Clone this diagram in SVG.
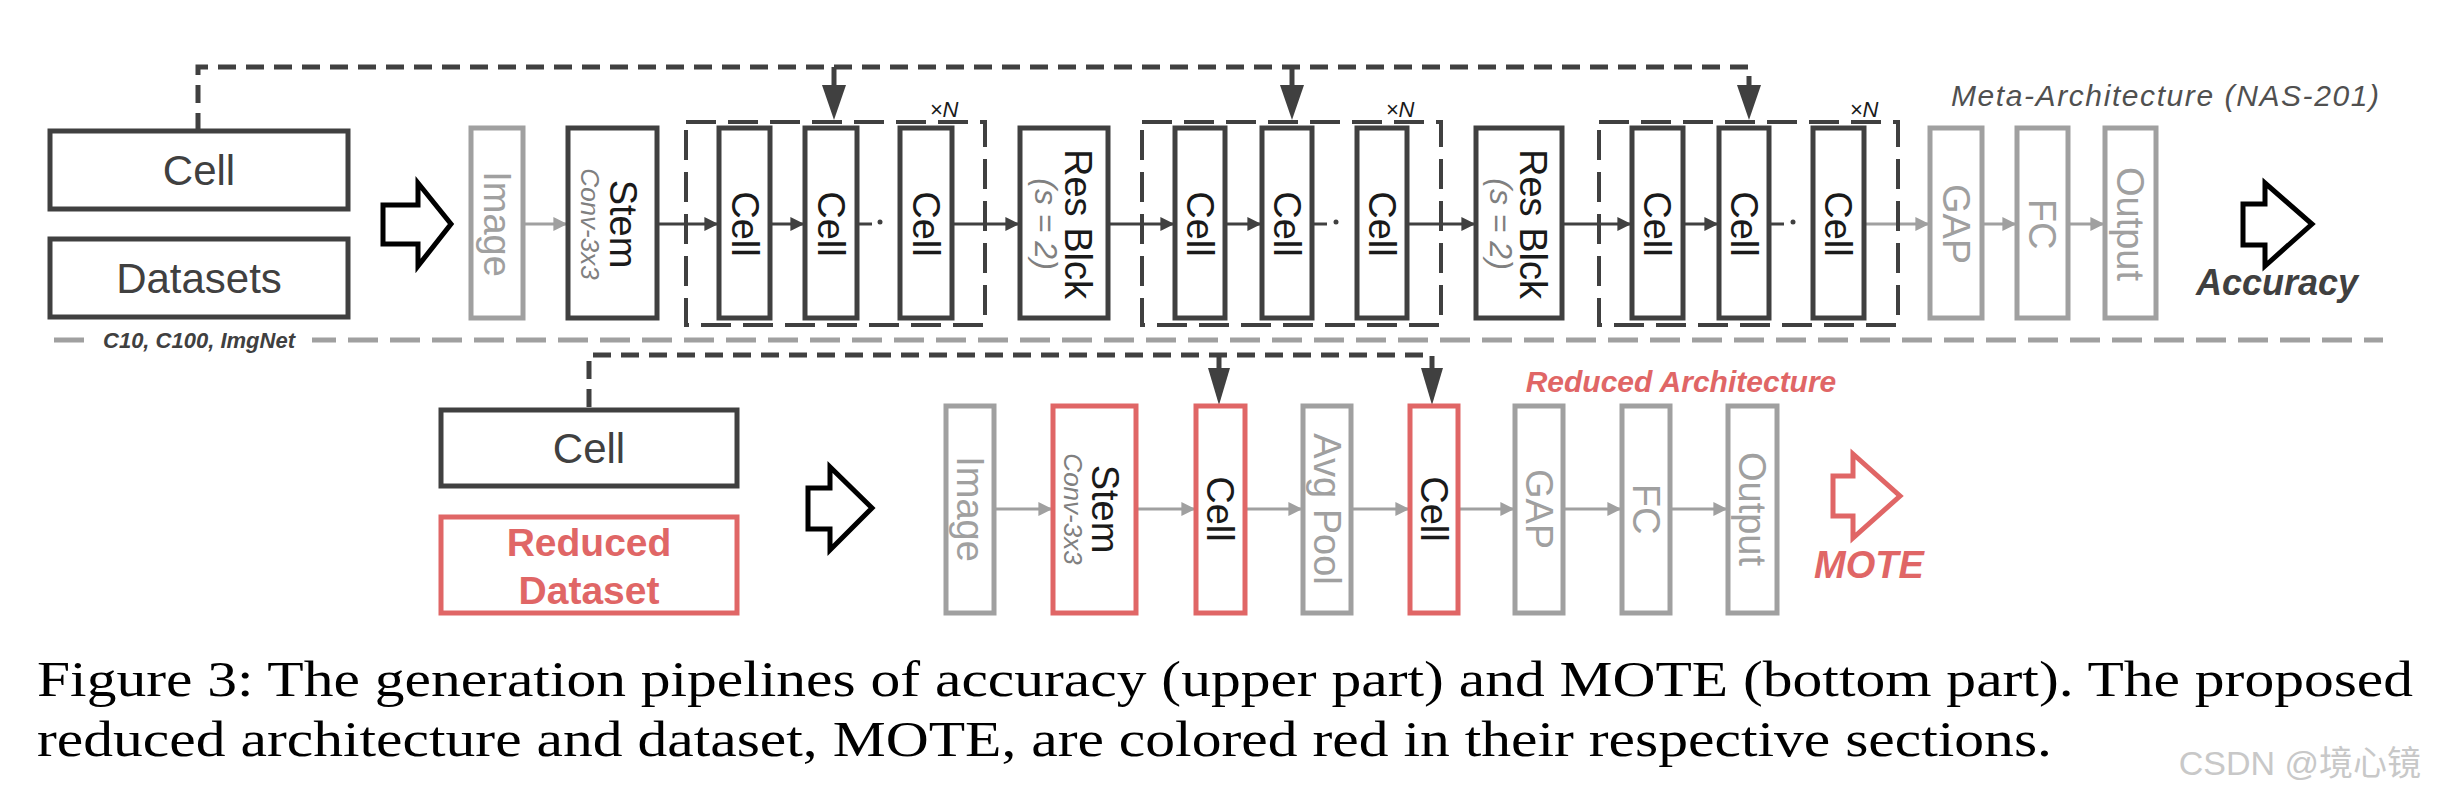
<svg xmlns="http://www.w3.org/2000/svg" width="2441" height="799" viewBox="0 0 2441 799">
<defs>
<marker id="ag" viewBox="0 0 10 10" refX="9" refY="5" markerWidth="14" markerHeight="14" orient="auto" markerUnits="userSpaceOnUse"><path d="M0,0 L10,5 L0,10z" fill="#a0a0a0"/></marker>
<marker id="adk" viewBox="0 0 10 10" refX="9" refY="5" markerWidth="14" markerHeight="14" orient="auto" markerUnits="userSpaceOnUse"><path d="M0,0 L10,5 L0,10z" fill="#404040"/></marker>
</defs>
<style>
.bd{fill:#fff;stroke:#404040;stroke-width:5}
.bg{fill:#fff;stroke:#a0a0a0;stroke-width:5}
.br{fill:#fff;stroke:#e06666;stroke-width:5}
.t{font-family:"Liberation Sans",Arial,sans-serif;font-size:38px;text-anchor:middle;dominant-baseline:central}
.dk{fill:#1a1a1a}.gy{fill:#a0a0a0}
.sub{font-style:italic;font-size:26px;fill:#808080}
.grp{fill:none;stroke:#404040;stroke-width:4;stroke-dasharray:30 12}
.top{fill:none;stroke:#404040;stroke-width:5;stroke-dasharray:18 10}
.fd{stroke:#404040;stroke-width:3;fill:none;marker-end:url(#adk)}
.fg{stroke:#a0a0a0;stroke-width:3;fill:none;marker-end:url(#ag)}
.hol{fill:#fff;stroke:#000;stroke-width:5}
.lab{font-family:"Liberation Sans",Arial,sans-serif;font-style:italic;font-weight:bold}
.xn{font-family:"Liberation Sans",Arial,sans-serif;font-style:italic;font-size:22px;text-anchor:middle;fill:#1a1a1a}
</style>
<rect width="2441" height="799" fill="#fff"/>
<g id="connectors">
<path class="top" d="M198,131 V67 H1749 V90"/>
<path d="M834,67 V90" class="top"/>
<path d="M1292,67 V90" class="top"/>
<path d="M822,85 L846,85 L834,120z" fill="#404040"/>
<path d="M1280,85 L1304,85 L1292,120z" fill="#404040"/>
<path d="M1737,85 L1761,85 L1749,120z" fill="#404040"/>
<line x1="54" y1="340" x2="2383" y2="340" stroke="#a0a0a0" stroke-width="5" stroke-dasharray="30 12"/>
<path class="top" d="M589,407 V355 H1432 V370"/>
<path d="M1219,355 V370" class="top"/>
<path d="M1208,368 L1230,368 L1219,405z" fill="#404040"/>
<path d="M1421,368 L1443,368 L1432,405z" fill="#404040"/>
<line class="fg" x1="523" y1="224" x2="566" y2="224"/>
<line class="fd" x1="657" y1="224" x2="717" y2="224"/>
<line class="fd" x1="770" y1="224" x2="803" y2="224"/>
<line x1="857" y1="224" x2="872" y2="224" stroke="#404040" stroke-width="3"/>
<circle cx="880" cy="222" r="2.5" fill="#404040"/>
<line class="fd" x1="952" y1="224" x2="1018" y2="224"/>
<line class="fd" x1="1108" y1="224" x2="1173" y2="224"/>
<line class="fd" x1="1225" y1="224" x2="1260" y2="224"/>
<line x1="1312" y1="224" x2="1327" y2="224" stroke="#404040" stroke-width="3"/>
<circle cx="1336" cy="222" r="2.5" fill="#404040"/>
<line class="fd" x1="1407" y1="224" x2="1474" y2="224"/>
<line class="fd" x1="1562" y1="224" x2="1630" y2="224"/>
<line class="fd" x1="1683" y1="224" x2="1717" y2="224"/>
<line x1="1769" y1="224" x2="1784" y2="224" stroke="#404040" stroke-width="3"/>
<circle cx="1793" cy="222" r="2.5" fill="#404040"/>
<line class="fg" x1="1864" y1="224" x2="1928" y2="224"/>
<line class="fg" x1="1982" y1="224" x2="2015" y2="224"/>
<line class="fg" x1="2068" y1="224" x2="2103" y2="224"/>
<line class="fg" x1="994" y1="509" x2="1051" y2="509"/>
<line class="fg" x1="1136" y1="509" x2="1194" y2="509"/>
<line class="fg" x1="1245" y1="509" x2="1301" y2="509"/>
<line class="fg" x1="1351" y1="509" x2="1408" y2="509"/>
<line class="fg" x1="1458" y1="509" x2="1513" y2="509"/>
<line class="fg" x1="1563" y1="509" x2="1620" y2="509"/>
<line class="fg" x1="1670" y1="509" x2="1726" y2="509"/>
</g>
<g id="groups">
<rect class="grp" x="686" y="122" width="299" height="203"/>
<rect class="grp" x="1142" y="122" width="299" height="203"/>
<rect class="grp" x="1599" y="122" width="299" height="203"/>
<text class="xn" x="944" y="117">×N</text>
<text class="xn" x="1400" y="117">×N</text>
<text class="xn" x="1864" y="117">×N</text>
</g>
<g id="inputs">
<rect class="bd" x="50" y="131" width="298" height="78"/>
<text class="t" x="199" y="170" style="font-size:42px" fill="#404040">Cell</text>
<rect class="bd" x="50" y="239" width="298" height="78"/>
<text class="t" x="199" y="278" style="font-size:42px" fill="#404040">Datasets</text>
<rect x="86" y="330" width="226" height="20" fill="#fff"/>
<text class="lab" x="199" y="348" font-size="22" text-anchor="middle" fill="#404040">C10, C100, ImgNet</text>
<path class="hol" d="M383,205 H418 V183 L451,224 L418,266 V244 H383z"/>
<rect class="bd" x="441" y="410" width="296" height="76"/>
<text class="t" x="589" y="448" style="font-size:42px" fill="#404040">Cell</text>
<rect class="br" x="441" y="517" width="296" height="96"/>
<text class="t" x="589" y="542" style="font-weight:bold;font-size:39px" fill="#e06666">Reduced</text>
<text class="t" x="589" y="590" style="font-weight:bold;font-size:39px" fill="#e06666">Dataset</text>
<path class="hol" d="M808,488 H830 V467 L872,508 L830,550 V529 H808z"/>
</g>
<g id="top-arch">
<rect class="bg" x="471" y="128" width="52" height="190"/>
<text class="t gy" transform="translate(497,224) rotate(90)">Image</text>
<rect class="bd" x="568" y="128" width="89" height="190"/>
<text class="t dk" transform="translate(623,224) rotate(90)">Stem</text>
<text class="t sub" transform="translate(590,224) rotate(90)">Conv-3x3</text>
<rect class="bd" x="719" y="128" width="51" height="190"/><text class="t dk" transform="translate(745,224) rotate(90)">Cell</text>
<rect class="bd" x="805" y="128" width="52" height="190"/><text class="t dk" transform="translate(831,224) rotate(90)">Cell</text>
<rect class="bd" x="900" y="128" width="52" height="190"/><text class="t dk" transform="translate(926,224) rotate(90)">Cell</text>
<rect class="bd" x="1020" y="128" width="88" height="190"/>
<text class="t dk" transform="translate(1078,224) rotate(90)">Res Blck</text>
<text class="t sub" transform="translate(1046,224) rotate(90)" style="font-size:32px">(s = 2)</text>
<rect class="bd" x="1175" y="128" width="50" height="190"/><text class="t dk" transform="translate(1200,224) rotate(90)">Cell</text>
<rect class="bd" x="1262" y="128" width="50" height="190"/><text class="t dk" transform="translate(1287,224) rotate(90)">Cell</text>
<rect class="bd" x="1357" y="128" width="50" height="190"/><text class="t dk" transform="translate(1382,224) rotate(90)">Cell</text>
<rect class="bd" x="1476" y="128" width="86" height="190"/>
<text class="t dk" transform="translate(1533,224) rotate(90)">Res Blck</text>
<text class="t sub" transform="translate(1501,224) rotate(90)" style="font-size:32px">(s = 2)</text>
<rect class="bd" x="1632" y="128" width="51" height="190"/><text class="t dk" transform="translate(1657,224) rotate(90)">Cell</text>
<rect class="bd" x="1719" y="128" width="50" height="190"/><text class="t dk" transform="translate(1744,224) rotate(90)">Cell</text>
<rect class="bd" x="1813" y="128" width="51" height="190"/><text class="t dk" transform="translate(1838,224) rotate(90)">Cell</text>
<rect class="bg" x="1930" y="128" width="52" height="190"/><text class="t gy" transform="translate(1956,224) rotate(90)">GAP</text>
<rect class="bg" x="2017" y="128" width="51" height="190"/><text class="t gy" transform="translate(2042,224) rotate(90)">FC</text>
<rect class="bg" x="2105" y="128" width="51" height="190"/><text class="t gy" transform="translate(2130,224) rotate(90)">Output</text>
<path class="hol" d="M2243,204 H2265 V183 L2312,224 L2265,266 V245 H2243z"/>
<text class="lab" x="2277" y="295" font-size="36" text-anchor="middle" fill="#404040">Accuracy</text>
<text x="1951" y="106" textLength="428" font-family="'Liberation Sans',Arial,sans-serif" font-style="italic" font-size="30" fill="#505050">Meta-Architecture (NAS-201)</text>
</g>
<g id="bottom-arch">
<rect class="bg" x="946" y="406" width="48" height="207"/><text class="t gy" transform="translate(970,509) rotate(90)">Image</text>
<rect class="br" x="1053" y="406" width="83" height="207"/>
<text class="t dk" transform="translate(1105,509) rotate(90)">Stem</text>
<text class="t sub" transform="translate(1073,509) rotate(90)">Conv-3x3</text>
<rect class="br" x="1196" y="406" width="49" height="207"/><text class="t dk" transform="translate(1220,509) rotate(90)">Cell</text>
<rect class="bg" x="1303" y="406" width="48" height="207"/><text class="t gy" transform="translate(1327,509) rotate(90)">Avg Pool</text>
<rect class="br" x="1410" y="406" width="48" height="207"/><text class="t dk" transform="translate(1434,509) rotate(90)">Cell</text>
<rect class="bg" x="1515" y="406" width="48" height="207"/><text class="t gy" transform="translate(1539,509) rotate(90)">GAP</text>
<rect class="bg" x="1622" y="406" width="48" height="207"/><text class="t gy" transform="translate(1646,509) rotate(90)">FC</text>
<rect class="bg" x="1728" y="406" width="49" height="207"/><text class="t gy" transform="translate(1752,509) rotate(90)">Output</text>
<text class="lab" x="1681" y="392" font-size="30" text-anchor="middle" fill="#e06666">Reduced Architecture</text>
<path d="M1833,476 H1853 V454 L1900,496 L1853,538 V516 H1833z" fill="#fff" stroke="#e06666" stroke-width="5"/>
<text class="lab" x="1869" y="578" font-size="38" text-anchor="middle" fill="#e06666">MOTE</text>
</g>
<g id="caption" font-family="'Liberation Serif','Times New Roman',serif" font-size="51" fill="#000">
<text x="37" y="696" textLength="2376" lengthAdjust="spacingAndGlyphs">Figure 3: The generation pipelines of accuracy (upper part) and MOTE (bottom part). The proposed</text>
<text x="37" y="756" textLength="2015" lengthAdjust="spacingAndGlyphs">reduced architecture and dataset, MOTE, are colored red in their respective sections.</text>
</g>
<text x="2421" y="775" text-anchor="end" font-family="'Liberation Sans','Noto Sans CJK SC',sans-serif" font-size="34" fill="#c8c8c8">CSDN @境心镜</text>
</svg>
